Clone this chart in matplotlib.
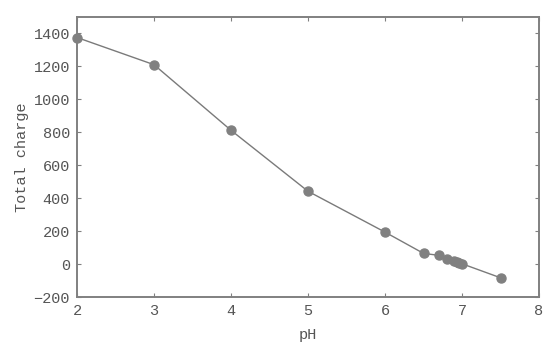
import matplotlib
matplotlib.use('Agg')
import matplotlib.pyplot as plt

# pH values and total charge
ph = [2.0, 3.0, 4.0, 5.0, 6.0, 6.5, 6.7, 6.8, 6.9, 6.93, 6.96, 7.0, 7.5]
charge = [1375, 1210, 812, 442, 194, 65, 53, 33, 20, 12, 6, 2, -83]

x_ticks = [2, 3, 4, 5, 6, 7, 8]
y_ticks = [-200, 0, 200, 400, 600, 800, 1000, 1200, 1400]

plt.rcParams['font.family'] = ['Liberation Mono', 'DejaVu Sans Mono']
text_color = '#555555'
axis_color = '#808080'

fig = plt.figure(figsize=(5.5, 3.45), dpi=100)
ax = fig.add_axes([0.14, 0.139, 0.84, 0.812])

ax.plot(ph, charge, color='#7a7a7a', linewidth=1.0, marker='o',
        markersize=6.5, markerfacecolor='#808080', markeredgecolor='#808080',
        clip_on=False, zorder=3)

ax.set_xlim(2, 8)
ax.set_ylim(-200, 1500)
ax.set_xticks(x_ticks)
ax.set_yticks(y_ticks)

ax.tick_params(direction='in', length=3, width=0.8, colors=axis_color,
               labelcolor=text_color, labelsize=11, pad=5, top=True, right=True)
for spine in ax.spines.values():
    spine.set_color(axis_color)
    spine.set_linewidth(1.4)

ax.set_xlabel('pH', color=text_color, fontsize=11, labelpad=7)
ax.set_ylabel('Total charge', color=text_color, fontsize=11, labelpad=3)

fig.savefig('out.png', dpi=100)
